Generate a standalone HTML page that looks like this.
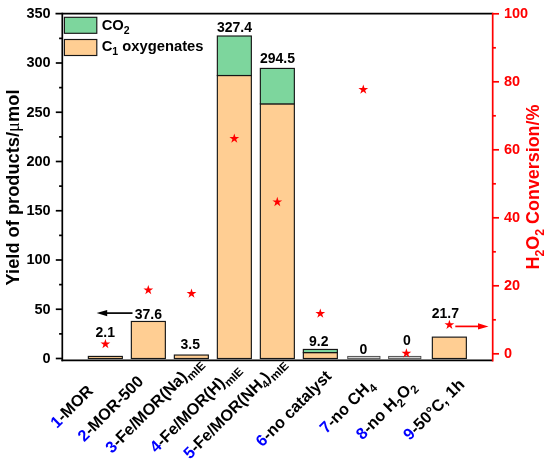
<!DOCTYPE html>
<html><head><meta charset="utf-8"><title>chart</title><style>html,body{margin:0;padding:0;background:#fff}svg{display:block}</style></head><body>
<svg width="550" height="466" viewBox="0 0 550 466" font-family="'Liberation Sans', Arial, sans-serif" font-weight="bold">
<rect width="550" height="466" fill="#fff"/>
<rect x="88.35" y="356.43" width="34.0" height="2.07" fill="#FFCE93" stroke="#161616" stroke-width="1.15"/>
<rect x="131.35" y="321.46" width="34.0" height="37.04" fill="#FFCE93" stroke="#161616" stroke-width="1.15"/>
<rect x="174.35" y="355.05" width="34.0" height="3.45" fill="#FFCE93" stroke="#161616" stroke-width="1.15"/>
<rect x="217.35" y="75.51" width="34.0" height="282.99" fill="#FFCE93" stroke="#161616" stroke-width="1.15"/>
<rect x="217.35" y="36.01" width="34.0" height="39.50" fill="#7DD69D" stroke="#161616" stroke-width="1.15"/>
<rect x="260.35" y="103.88" width="34.0" height="254.62" fill="#FFCE93" stroke="#161616" stroke-width="1.15"/>
<rect x="260.35" y="68.42" width="34.0" height="35.46" fill="#7DD69D" stroke="#161616" stroke-width="1.15"/>
<rect x="303.35" y="352.59" width="34.0" height="5.91" fill="#FFCE93" stroke="#161616" stroke-width="1.15"/>
<rect x="303.35" y="349.44" width="34.0" height="3.15" fill="#7DD69D" stroke="#161616" stroke-width="1.15"/>
<rect x="347.75" y="356.40" width="32.2" height="2.3" fill="#d0d0d0" stroke="#444" stroke-width="0.9"/>
<rect x="388.65" y="356.40" width="32.2" height="2.3" fill="#d0d0d0" stroke="#444" stroke-width="0.9"/>
<rect x="432.35" y="337.13" width="34.0" height="21.37" fill="#FFCE93" stroke="#161616" stroke-width="1.15"/>
<g stroke="#000" stroke-width="1.7" fill="none">
<line x1="62.3" y1="12.85" x2="62.3" y2="361.3"/>
<line x1="55.5" y1="13.7" x2="492.7" y2="13.7"/>
<line x1="61.45" y1="360.45" x2="492.7" y2="360.45"/>
<line x1="55.80" y1="358.50" x2="62.3" y2="358.50"/>
<line x1="59.10" y1="333.88" x2="62.3" y2="333.88"/>
<line x1="55.80" y1="309.25" x2="62.3" y2="309.25"/>
<line x1="59.10" y1="284.62" x2="62.3" y2="284.62"/>
<line x1="55.80" y1="260.00" x2="62.3" y2="260.00"/>
<line x1="59.10" y1="235.38" x2="62.3" y2="235.38"/>
<line x1="55.80" y1="210.75" x2="62.3" y2="210.75"/>
<line x1="59.10" y1="186.12" x2="62.3" y2="186.12"/>
<line x1="55.80" y1="161.50" x2="62.3" y2="161.50"/>
<line x1="59.10" y1="136.88" x2="62.3" y2="136.88"/>
<line x1="55.80" y1="112.25" x2="62.3" y2="112.25"/>
<line x1="59.10" y1="87.62" x2="62.3" y2="87.62"/>
<line x1="55.80" y1="63.00" x2="62.3" y2="63.00"/>
<line x1="59.10" y1="38.38" x2="62.3" y2="38.38"/>
</g>
<g stroke="#f00" stroke-width="1.7" fill="none">
<line x1="492.7" y1="12.85" x2="492.7" y2="361.4"/>
<line x1="492.7" y1="353.80" x2="499.00" y2="353.80"/>
<line x1="492.7" y1="319.80" x2="495.90" y2="319.80"/>
<line x1="492.7" y1="285.80" x2="499.00" y2="285.80"/>
<line x1="492.7" y1="251.80" x2="495.90" y2="251.80"/>
<line x1="492.7" y1="217.80" x2="499.00" y2="217.80"/>
<line x1="492.7" y1="183.80" x2="495.90" y2="183.80"/>
<line x1="492.7" y1="149.80" x2="499.00" y2="149.80"/>
<line x1="492.7" y1="115.80" x2="495.90" y2="115.80"/>
<line x1="492.7" y1="81.80" x2="499.00" y2="81.80"/>
<line x1="492.7" y1="47.80" x2="495.90" y2="47.80"/>
<line x1="492.7" y1="13.80" x2="499.00" y2="13.80"/>
</g>
<g font-size="14.5" fill="#000" text-anchor="end">
<text x="50.6" y="362.85">0</text>
<text x="50.6" y="313.60">50</text>
<text x="50.6" y="264.35">100</text>
<text x="50.6" y="215.10">150</text>
<text x="50.6" y="165.85">200</text>
<text x="50.6" y="116.60">250</text>
<text x="50.6" y="67.35">300</text>
<text x="50.6" y="18.10">350</text>
</g>
<g font-size="14.5" fill="#f00" text-anchor="start">
<text x="503.9" y="357.60">0</text>
<text x="503.9" y="289.60">20</text>
<text x="503.9" y="221.60">40</text>
<text x="503.9" y="153.60">60</text>
<text x="503.9" y="85.60">80</text>
<text x="503.9" y="17.60">100</text>
</g>
<text transform="translate(18.7,285.4) rotate(-90)" font-size="18.25" fill="#000">Yield of products/<tspan font-family="'Liberation Serif', serif" font-weight="normal" font-size="18.6">μ</tspan>mol</text>
<text transform="translate(538.9,269.4) rotate(-90)" font-size="17.9" fill="#f00">H<tspan font-size="12.3" dy="5.3">2</tspan><tspan dy="-5.3">O</tspan><tspan font-size="12.3" dy="5.3">2</tspan><tspan dy="-5.3"> Conversion/%</tspan></text>
<rect x="64.4" y="17.3" width="32.4" height="16" fill="#7DD69D" stroke="#161616" stroke-width="1.15"/>
<rect x="64.4" y="39.5" width="32.4" height="16" fill="#FFCE93" stroke="#161616" stroke-width="1.15"/>
<text x="101.7" y="29.9" font-size="14.75" fill="#000">CO<tspan font-size="10.5" dy="3.7">2</tspan></text>
<text x="101.7" y="51.4" font-size="14.75" fill="#000">C<tspan font-size="10.5" dy="3.7">1</tspan><tspan dy="-3.7"> oxygenates</tspan></text>
<g font-size="14" fill="#000" text-anchor="middle">
<text x="105.2" y="337.2">2.1</text>
<text x="148.3" y="319.0">37.6</text>
<text x="190.3" y="348.7">3.5</text>
<text x="234.5" y="31.9">327.4</text>
<text x="277.5" y="63.0">294.5</text>
<text x="318.8" y="345.6">9.2</text>
<text x="363.4" y="353.6">0</text>
<text x="406.8" y="344.6">0</text>
<text x="445.3" y="318.4">21.7</text>
</g>
<polygon points="105.40,338.95 106.56,342.51 110.30,342.51 107.27,344.71 108.43,348.27 105.40,346.07 102.37,348.27 103.53,344.71 100.50,342.51 104.24,342.51" fill="#f00"/>
<polygon points="148.30,284.95 149.46,288.51 153.20,288.51 150.17,290.71 151.33,294.27 148.30,292.07 145.27,294.27 146.43,290.71 143.40,288.51 147.14,288.51" fill="#f00"/>
<polygon points="191.50,288.45 192.66,292.01 196.40,292.01 193.37,294.21 194.53,297.77 191.50,295.57 188.47,297.77 189.63,294.21 186.60,292.01 190.34,292.01" fill="#f00"/>
<polygon points="234.30,133.45 235.46,137.01 239.20,137.01 236.17,139.21 237.33,142.77 234.30,140.57 231.27,142.77 232.43,139.21 229.40,137.01 233.14,137.01" fill="#f00"/>
<polygon points="277.30,196.85 278.46,200.41 282.20,200.41 279.17,202.61 280.33,206.17 277.30,203.97 274.27,206.17 275.43,202.61 272.40,200.41 276.14,200.41" fill="#f00"/>
<polygon points="320.30,308.45 321.46,312.01 325.20,312.01 322.17,314.21 323.33,317.77 320.30,315.57 317.27,317.77 318.43,314.21 315.40,312.01 319.14,312.01" fill="#f00"/>
<polygon points="363.30,84.45 364.46,88.01 368.20,88.01 365.17,90.21 366.33,93.77 363.30,91.57 360.27,93.77 361.43,90.21 358.40,88.01 362.14,88.01" fill="#f00"/>
<polygon points="406.40,348.25 407.56,351.81 411.30,351.81 408.27,354.01 409.43,357.57 406.40,355.37 403.37,357.57 404.53,354.01 401.50,351.81 405.24,351.81" fill="#f00"/>
<polygon points="449.40,319.75 450.56,323.31 454.30,323.31 451.27,325.51 452.43,329.07 449.40,326.87 446.37,329.07 447.53,325.51 444.50,323.31 448.24,323.31" fill="#f00"/>
<line x1="105" y1="313.1" x2="132.5" y2="313.1" stroke="#000" stroke-width="1.7"/>
<polygon points="96.6,313.1 107.2,309.9 107.2,316.3" fill="#000"/>
<line x1="455.3" y1="326.4" x2="481" y2="326.4" stroke="#f00" stroke-width="1.7"/>
<polygon points="488.5,326.4 478,323.2 478,329.6" fill="#f00"/>
<text transform="translate(56.9,428.9) rotate(-45)" font-size="16.25" fill="#000"><tspan fill="#00f">1</tspan>-MOR</text>
<text transform="translate(84.3,442.4) rotate(-45)" font-size="16.25" fill="#000"><tspan fill="#00f">2</tspan>-MOR-500</text>
<text transform="translate(112.0,454.0) rotate(-45)" font-size="16.25" fill="#000"><tspan fill="#00f">3</tspan>-Fe/MOR(Na)<tspan font-size="11.6" dy="4.5">mIE</tspan></text>
<text transform="translate(156.2,453.6) rotate(-45)" font-size="16.25" fill="#000"><tspan fill="#00f">4</tspan>-Fe/MOR(H)<tspan font-size="11.6" dy="4.5">mIE</tspan></text>
<text transform="translate(189.9,459.7) rotate(-45)" font-size="16.2" fill="#000"><tspan fill="#00f">5</tspan>-Fe/MOR(NH<tspan font-size="10.8" dy="3.8" dx="-0.4">4</tspan><tspan dy="-3.8" dx="-0.3">)</tspan><tspan font-size="11.6" dy="4.5">mIE</tspan></text>
<text transform="translate(262.2,447.4) rotate(-45)" font-size="16.25" fill="#000"><tspan fill="#00f">6</tspan>-no catalyst</text>
<text transform="translate(326.3,434.2) rotate(-45)" font-size="16.25" fill="#000"><tspan fill="#00f">7</tspan>-no CH<tspan font-size="11.6" dy="4.5">4</tspan></text>
<text transform="translate(362.6,440.5) rotate(-45)" font-size="16.25" fill="#000"><tspan fill="#00f">8</tspan>-no H<tspan font-size="11.6" dy="4.5">2</tspan><tspan dy="-4.5">O</tspan><tspan font-size="11.6" dy="4.5">2</tspan></text>
<text transform="translate(409.8,441.1) rotate(-45)" font-size="16.25" fill="#000"><tspan fill="#00f">9</tspan>-50°C, 1h</text>
</svg>
</body></html>
